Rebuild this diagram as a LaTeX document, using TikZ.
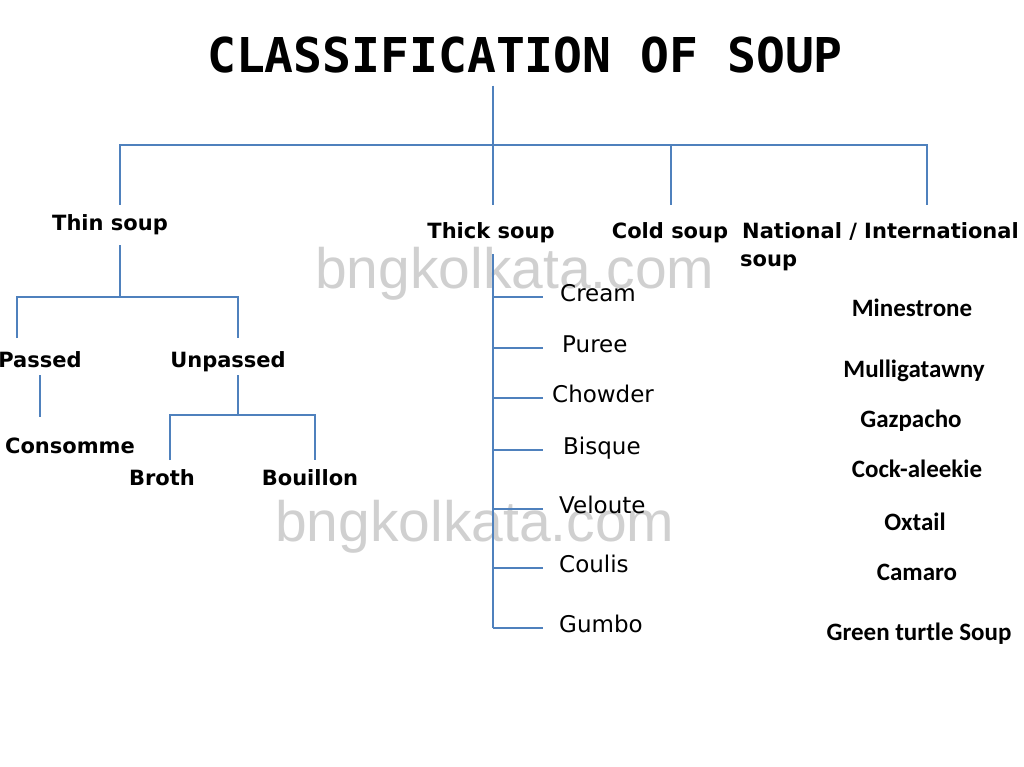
\documentclass[tikz,border=0pt]{standalone}
\usepackage{fontspec}
\newfontfamily\titlefont{DejaVu Sans Mono}
\newfontfamily\headfont{DejaVu Sans}
\newfontfamily\itemfont{DejaVu Sans}
\newfontfamily\dishfont{Carlito}
\newfontfamily\wmarkfont{Liberation Sans}
\definecolor{linkblue}{RGB}{79,129,189}
\definecolor{wmarkgray}{RGB}{208,208,208}

\begin{document}
\begin{tikzpicture}[x=1pt, y=-1pt,
    link/.style={draw=linkblue, line width=2pt},
    head/.style={font=\headfont\bfseries\fontsize{21}{25}\selectfont, inner sep=0pt,
      text height=15pt, text depth=5pt, outer ysep=10pt, anchor=base},
    subhead/.style={head, text height=21pt, text depth=0pt, outer ysep=8pt},
    thickitem/.style={font=\itemfont\fontsize{23}{27}\selectfont, inner sep=0pt, anchor=base west},
    dish/.style={font=\dishfont\bfseries\fontsize{25}{30}\selectfont, inner sep=0pt, anchor=base},
    wmark/.style={font=\wmarkfont\fontsize{57}{60}\selectfont, text=wmarkgray, inner sep=0pt, anchor=base west}]
  \useasboundingbox (0,0) rectangle (1024,767);

  % watermark
  \node[wmark] (wm-1) at (315,288) {bngkolkata.com};
  \node[wmark] (wm-2) at (275,541) {bngkolkata.com};

  \node[font=\titlefont\bfseries\fontsize{48}{56}\selectfont, inner sep=0pt, outer sep=12pt,
    anchor=base] (title) at (525,73) {CLASSIFICATION OF SOUP};

  % main classes
  \node[head] (thin) at (110,230) {Thin soup};
  \node[head, text height=24pt] (thick) at (491,239) {Thick soup};
  \node[head, text height=24pt] (cold) at (670,239) {Cold soup};
  \node[head, text height=24pt, anchor=base west] (natl) at (742,239) {National / International};
  \node[head, anchor=base west] (natl-2) at (740,266) {soup};

  \coordinate (root) at (493,145);
  \coordinate (b-thin) at (120,145);
  \coordinate (b-cold) at (671,145);
  \coordinate (b-natl) at (927,145);
  \draw[link] (title.south -| root) -- (thick.north -| root);
  \draw[link] (thin.north -| b-thin) -- (b-thin) -- (b-natl) -- (natl.north -| b-natl);
  \draw[link] (b-cold) -- (cold.north -| b-cold);

  % thin soup
  \node[subhead] (passed) at (40,367) {Passed};
  \node[subhead] (unpassed) at (228,367) {Unpassed};
  \node[head, text height=26pt] (consomme) at (70,453) {Consomme};
  \node[head] (broth) at (162,485) {Broth};
  \node[head] (bouillon) at (310,485) {Bouillon};

  \coordinate (b-passed) at (17,297);
  \coordinate (b-unpassed) at (238,297);
  \coordinate (b-broth) at (170,415);
  \coordinate (b-bouillon) at (315,415);
  \draw[link] (thin.south -| b-thin) -- (b-thin |- b-passed);
  \draw[link] (passed.north -| b-passed) -- (b-passed) -- (b-unpassed) -- (unpassed.north -| b-unpassed);
  \draw[link] (passed.south) -- (passed.south |- consomme.north);
  \draw[link] (unpassed.south -| b-unpassed) -- (b-unpassed |- b-broth);
  \draw[link] (broth.north -| b-broth) -- (b-broth) -- (b-bouillon) -- (bouillon.north -| b-bouillon);

  % thick soup
  \coordinate (spine) at (493,0);
  \foreach \item/\x/\y in {Cream/560/297, Puree/562/348, Chowder/552/398, Bisque/563/450,
      Veloute/559/509, Coulis/559/568, Gumbo/559/628}{
    \coordinate (\item-end) at (543,\y);
    \node[thickitem] (\item) at (\x,\y+4) {\item};
    \draw[link] (spine |- \item-end) -- (\item-end);
  }
  \draw[link] (thick.south -| spine) -- (spine |- Gumbo-end);

  % national / international
  \foreach \item/\x/\y [count=\i] in {Minestrone/912/316, Mulligatawny/914/377, Gazpacho/911/427,
      Cock-aleekie/917/477, Oxtail/915/530, Camaro/917/580, Green turtle Soup/919/640}
    \node[dish] (dish-\i) at (\x,\y) {\item};
\end{tikzpicture}
\end{document}
